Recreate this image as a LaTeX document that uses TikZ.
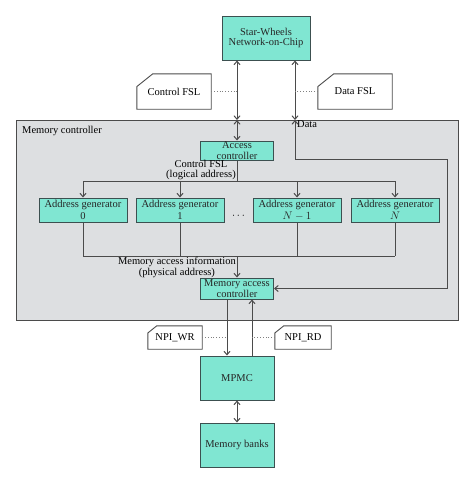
\documentclass[tikz,border=0pt]{standalone}
\usepackage{fontspec}
\setmainfont{Liberation Serif}
\usepackage{tikz}
\usetikzlibrary{shapes,arrows,arrows.meta}
\usetikzlibrary{positioning}
\usetikzlibrary{calc}
\definecolor{mycyan}{RGB}{128,230,210}
\definecolor{myedge}{RGB}{60,80,80}
\definecolor{mygray}{RGB}{221,223,225}
\definecolor{myline}{RGB}{75,75,75}
\newcommand\mygen[3][]{%
  \node[genbox,#1] (#2) {Address generator\\[1.5pt]#3};
}
\newcommand\mynote[5][]{%
  \node[notebox,#1] (#2) at (#3) {#5};
  \draw[myline, line width=0.9pt] ([xshift=#4pt]#2.north west) -- (#2.north east) -- (#2.south east)
    -- (#2.south west) -- ([yshift=-0.8*#4pt]#2.north west) -- cycle;
}

\begin{document}
\begin{tikzpicture}[
x=1pt,y=-1pt,
>={Straight Barb[length=3.5pt,width=6pt]},
font=\fontsize{10.5}{10.5}\selectfont,
cyanbox/.style={
  draw=myedge,
  line width=1pt,
  fill=mycyan,
  inner sep=0pt,
  align=center,
  text=black!85},
genbox/.style={cyanbox, minimum width=88pt, minimum height=24pt},
bigbox/.style={cyanbox, minimum width=74pt, minimum height=44pt},
notebox/.style={minimum height=23pt, inner sep=0pt},
conn/.style={myline, line width=1pt},
dots/.style={gray, line width=0.8pt, dotted}
]
\useasboundingbox (0,0) rectangle (474,482);

% memory controller frame
\filldraw[fill=mygray, draw=myline, line width=1pt] (16,120) rectangle (458,320);
\node[anchor=north west, inner sep=2pt] (mclabel) at (20,124) {Memory controller};

% nodes
\node[cyanbox, minimum width=88pt, minimum height=44pt] (noc) at (266,38) {Star-Wheels\\Network-on-Chip};
\node[cyanbox, minimum width=73pt, minimum height=19pt] (acc) at (237,150.5) {Access\\controller};
\mygen[at={(83,210)}]{g0}{0}
\mygen[right=8pt of g0]{g1}{1}
\mygen[right=28pt of g1]{gN1}{$N-1$}
\mygen[right=9pt of gN1]{gN}{$N$}
\node[cyanbox, minimum width=73pt, minimum height=21pt] (mac) at (237,288.5) {Memory access\\controller};
\node[bigbox] (mpmc) at (237,378) {MPMC};
\node[bigbox, below=22pt of mpmc] (banks) {Memory banks};
\node[inner sep=0pt] (dots) at ($(g1.east)!0.5!(gN1.west)+(0,6)$) {$\cdots$};

% notes
\mynote[minimum width=74pt, minimum height=35pt]{cfsl}{174,91.5}{16}{Control FSL}
\mynote[minimum width=74pt, minimum height=35pt]{dfsl}{355,91.5}{16}{Data FSL}
\mynote[minimum width=54pt]{npiwr}{175,337.5}{9}{NPI\_WR}
\mynote[minimum width=56pt]{npird}{303,337.5}{9}{NPI\_RD}

% border points
\coordinate (cin) at (237,120);
\coordinate (din) at (295,120);
\coordinate (bus1) at (237,181);
\coordinate (bus2) at (237,256);

% noc links
\draw[conn,<->] (noc.south -| cin) -- (cin);
\draw[conn,<->] (cin) -- (acc.north);
\draw[conn,<->] (noc.south -| din) -- (din);
\draw[conn,<->] (din) -- ++(0,39) -| (447,288.5) -- (mac.east);
\node[anchor=north west, inner sep=2pt] (datalbl) at ([yshift=2pt]din) {Data};

% fsl notes dotted
\draw[dots] (cfsl.east) -- (cfsl.east -| cin);
\draw[dots] (dfsl.west) -- (dfsl.west -| din);

% control bus
\draw[conn] (acc.south) -- (bus1);
\draw[conn] (g0.north |- bus1) -- (gN.north |- bus1);
\foreach \g in {g0,g1,gN1,gN}
  \draw[conn,->] (\g.north |- bus1) -- (\g.north);
\node[anchor=south east, inner sep=1pt, align=center] (clbl) at (bus1) {Control FSL\\(logical address)};

% address bus
\foreach \g in {g0,g1,gN1,gN}
  \draw[conn] (\g.south) -- (\g.south |- bus2);
\draw[conn] (g0.south |- bus2) -- (gN.south |- bus2);
\draw[conn,->] (bus2) -- (mac.north);
\node[anchor=north east, inner sep=1pt, align=center] (albl) at (bus2) {Memory access information\\(physical address)};

% npi links
\coordinate (wr) at (227,320);
\coordinate (rd) at (252,320);
\draw[conn,->] (mac.south -| wr) -- (mpmc.north -| wr);
\draw[conn,->] (mpmc.north -| rd) -- (mac.south -| rd);
\draw[dots] (npiwr.east) -- (npiwr.east -| wr);
\draw[dots] (npird.west) -- (npird.west -| rd);

% memory
\draw[conn,<->] (mpmc.south) -- (banks.north);
\end{tikzpicture}
\end{document}
